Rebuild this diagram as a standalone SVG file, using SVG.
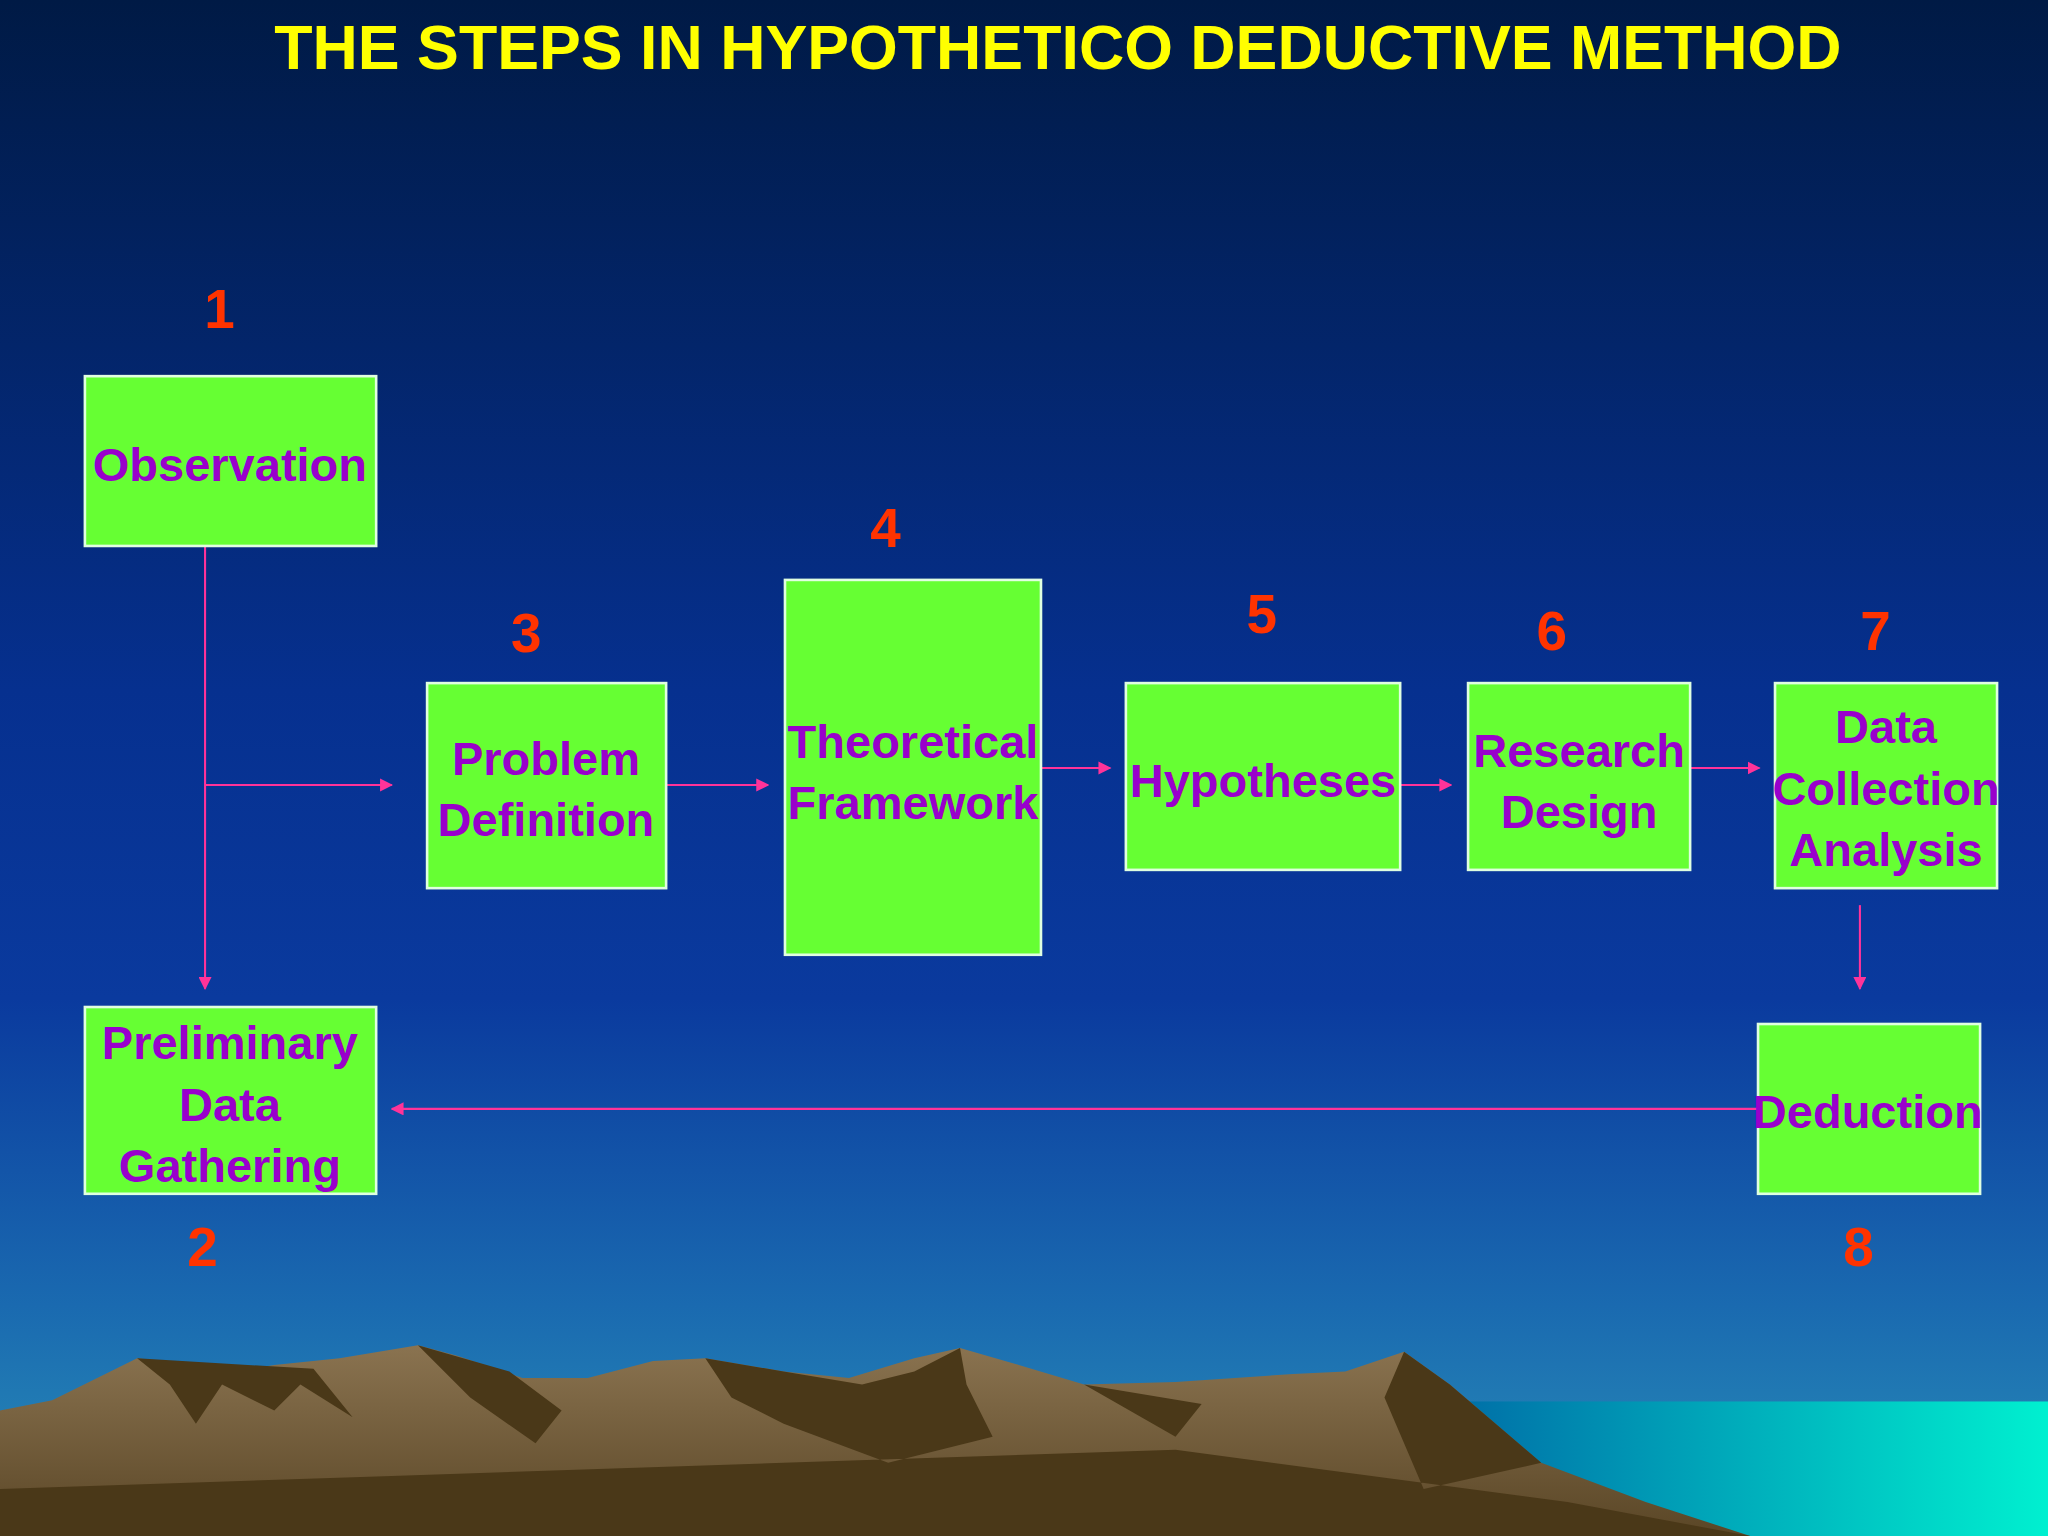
<svg xmlns="http://www.w3.org/2000/svg" width="2048" height="1536" viewBox="0 0 2048 1536">
<defs>
<linearGradient id="bg" x1="0" y1="0" x2="0" y2="1">
<stop offset="0" stop-color="#001a45"/>
<stop offset="0.45" stop-color="#06308f"/>
<stop offset="0.65" stop-color="#0a3a9e"/>
<stop offset="0.85" stop-color="#1a6ab0"/>
<stop offset="1" stop-color="#2a90b8"/>
</linearGradient>
<linearGradient id="sea" x1="0" y1="0" x2="1" y2="0">
<stop offset="0" stop-color="#0070a8"/>
<stop offset="1" stop-color="#00f0d0"/>
</linearGradient>
<linearGradient id="mt" x1="0" y1="0" x2="0" y2="1">
<stop offset="0" stop-color="#8a7350"/>
<stop offset="1" stop-color="#5a4626"/>
</linearGradient>
<marker id="ah" markerWidth="10" markerHeight="10" refX="9" refY="5" orient="auto" markerUnits="userSpaceOnUse">
<path d="M0,0 L10,5 L0,10 z" fill="#ff3399"/>
</marker>
<style>
.box{fill:#66ff33;stroke:#e0ffe0;stroke-width:2}
.lbl{font-family:"Liberation Sans",Arial,sans-serif;font-weight:bold;font-size:36px;fill:#9900cc;text-anchor:middle}
.num{font-family:"Liberation Sans",Arial,sans-serif;font-weight:bold;font-size:42px;fill:#ff3300;text-anchor:middle}
.c{stroke:#ff3399;stroke-width:1.6;fill:none;marker-end:url(#ah)}
</style>
</defs>
<rect width="2048" height="1536" fill="url(#bg)"/>
<g transform="scale(1.30612)">
<rect x="1120" y="1073" width="448" height="103" fill="url(#sea)"/>
<path d="M0,1080 L40,1072 L105,1040 L150,1045 L180,1050 L210,1045 L260,1040 L320,1030 L350,1038 L400,1055 L450,1055 L500,1042 L540,1040 L600,1050 L650,1055 L700,1040 L735,1032 L780,1045 L830,1060 L900,1058 L990,1052 L1030,1050 L1075,1035 L1110,1060 L1180,1120 L1260,1150 L1340,1176 L0,1176 Z" fill="url(#mt)"/>
<path d="M105,1040 L130,1060 L150,1090 L170,1060 L210,1080 L230,1060 L270,1085 L240,1048 Z M320,1030 L360,1070 L410,1105 L430,1080 L390,1050 Z M540,1040 L560,1070 L600,1090 L680,1120 L760,1100 L740,1060 L735,1032 L700,1050 L660,1060 L600,1050 Z M830,1060 L900,1100 L920,1075 Z M1075,1035 L1060,1070 L1090,1140 L1180,1120 L1110,1060 Z M0,1140 L300,1130 L600,1120 L900,1110 L1200,1150 L1340,1176 L0,1176 Z" fill="#4a3818"/>
</g>
<g transform="scale(1.30612)">
<text x="810" y="53" font-family="Liberation Sans,Arial,sans-serif" font-weight="bold" font-size="48" fill="#ffff00" text-anchor="middle">THE STEPS IN HYPOTHETICO DEDUCTIVE METHOD</text>
<g id="connectors">
<path class="c" d="M157,418 V757"/>
<path class="c" d="M157,601 H300"/>
<path class="c" d="M510,601 H588"/>
<path class="c" d="M797,588 H850"/>
<path class="c" d="M1072,601 H1111"/>
<path class="c" d="M1294,588 H1347"/>
<path class="c" d="M1424,693 V757"/>
<path class="c" d="M1346,849 H300"/>
</g>
<g id="n1"><rect class="box" x="65" y="288" width="223" height="130"/><text class="lbl" x="176" y="368">Observation</text><text class="num" x="168" y="251">1</text></g>
<g id="n2"><rect class="box" x="65" y="771" width="223" height="143"/><text class="lbl" x="176" y="811">Preliminary</text><text class="lbl" x="176" y="858">Data</text><text class="lbl" x="176" y="905">Gathering</text><text class="num" x="155" y="969">2</text></g>
<g id="n3"><rect class="box" x="327" y="523" width="183" height="157"/><text class="lbl" x="418" y="593">Problem</text><text class="lbl" x="418" y="640">Definition</text><text class="num" x="403" y="499">3</text></g>
<g id="n4"><rect class="box" x="601" y="444" width="196" height="287"/><text class="lbl" x="699" y="580">Theoretical</text><text class="lbl" x="699" y="627">Framework</text><text class="num" x="678" y="419">4</text></g>
<g id="n5"><rect class="box" x="862" y="523" width="210" height="143"/><text class="lbl" x="967" y="610">Hypotheses</text><text class="num" x="966" y="485">5</text></g>
<g id="n6"><rect class="box" x="1124" y="523" width="170" height="143"/><text class="lbl" x="1209" y="587">Research</text><text class="lbl" x="1209" y="634">Design</text><text class="num" x="1188" y="498">6</text></g>
<g id="n7"><rect class="box" x="1359" y="523" width="170" height="157"/><text class="lbl" x="1444" y="569">Data</text><text class="lbl" x="1444" y="616">Collection</text><text class="lbl" x="1444" y="663">Analysis</text><text class="num" x="1436" y="498">7</text></g>
<g id="n8"><rect class="box" x="1346" y="784" width="170" height="130"/><text class="lbl" x="1430" y="864">Deduction</text><text class="num" x="1423" y="969">8</text></g>
</g>
</svg>
